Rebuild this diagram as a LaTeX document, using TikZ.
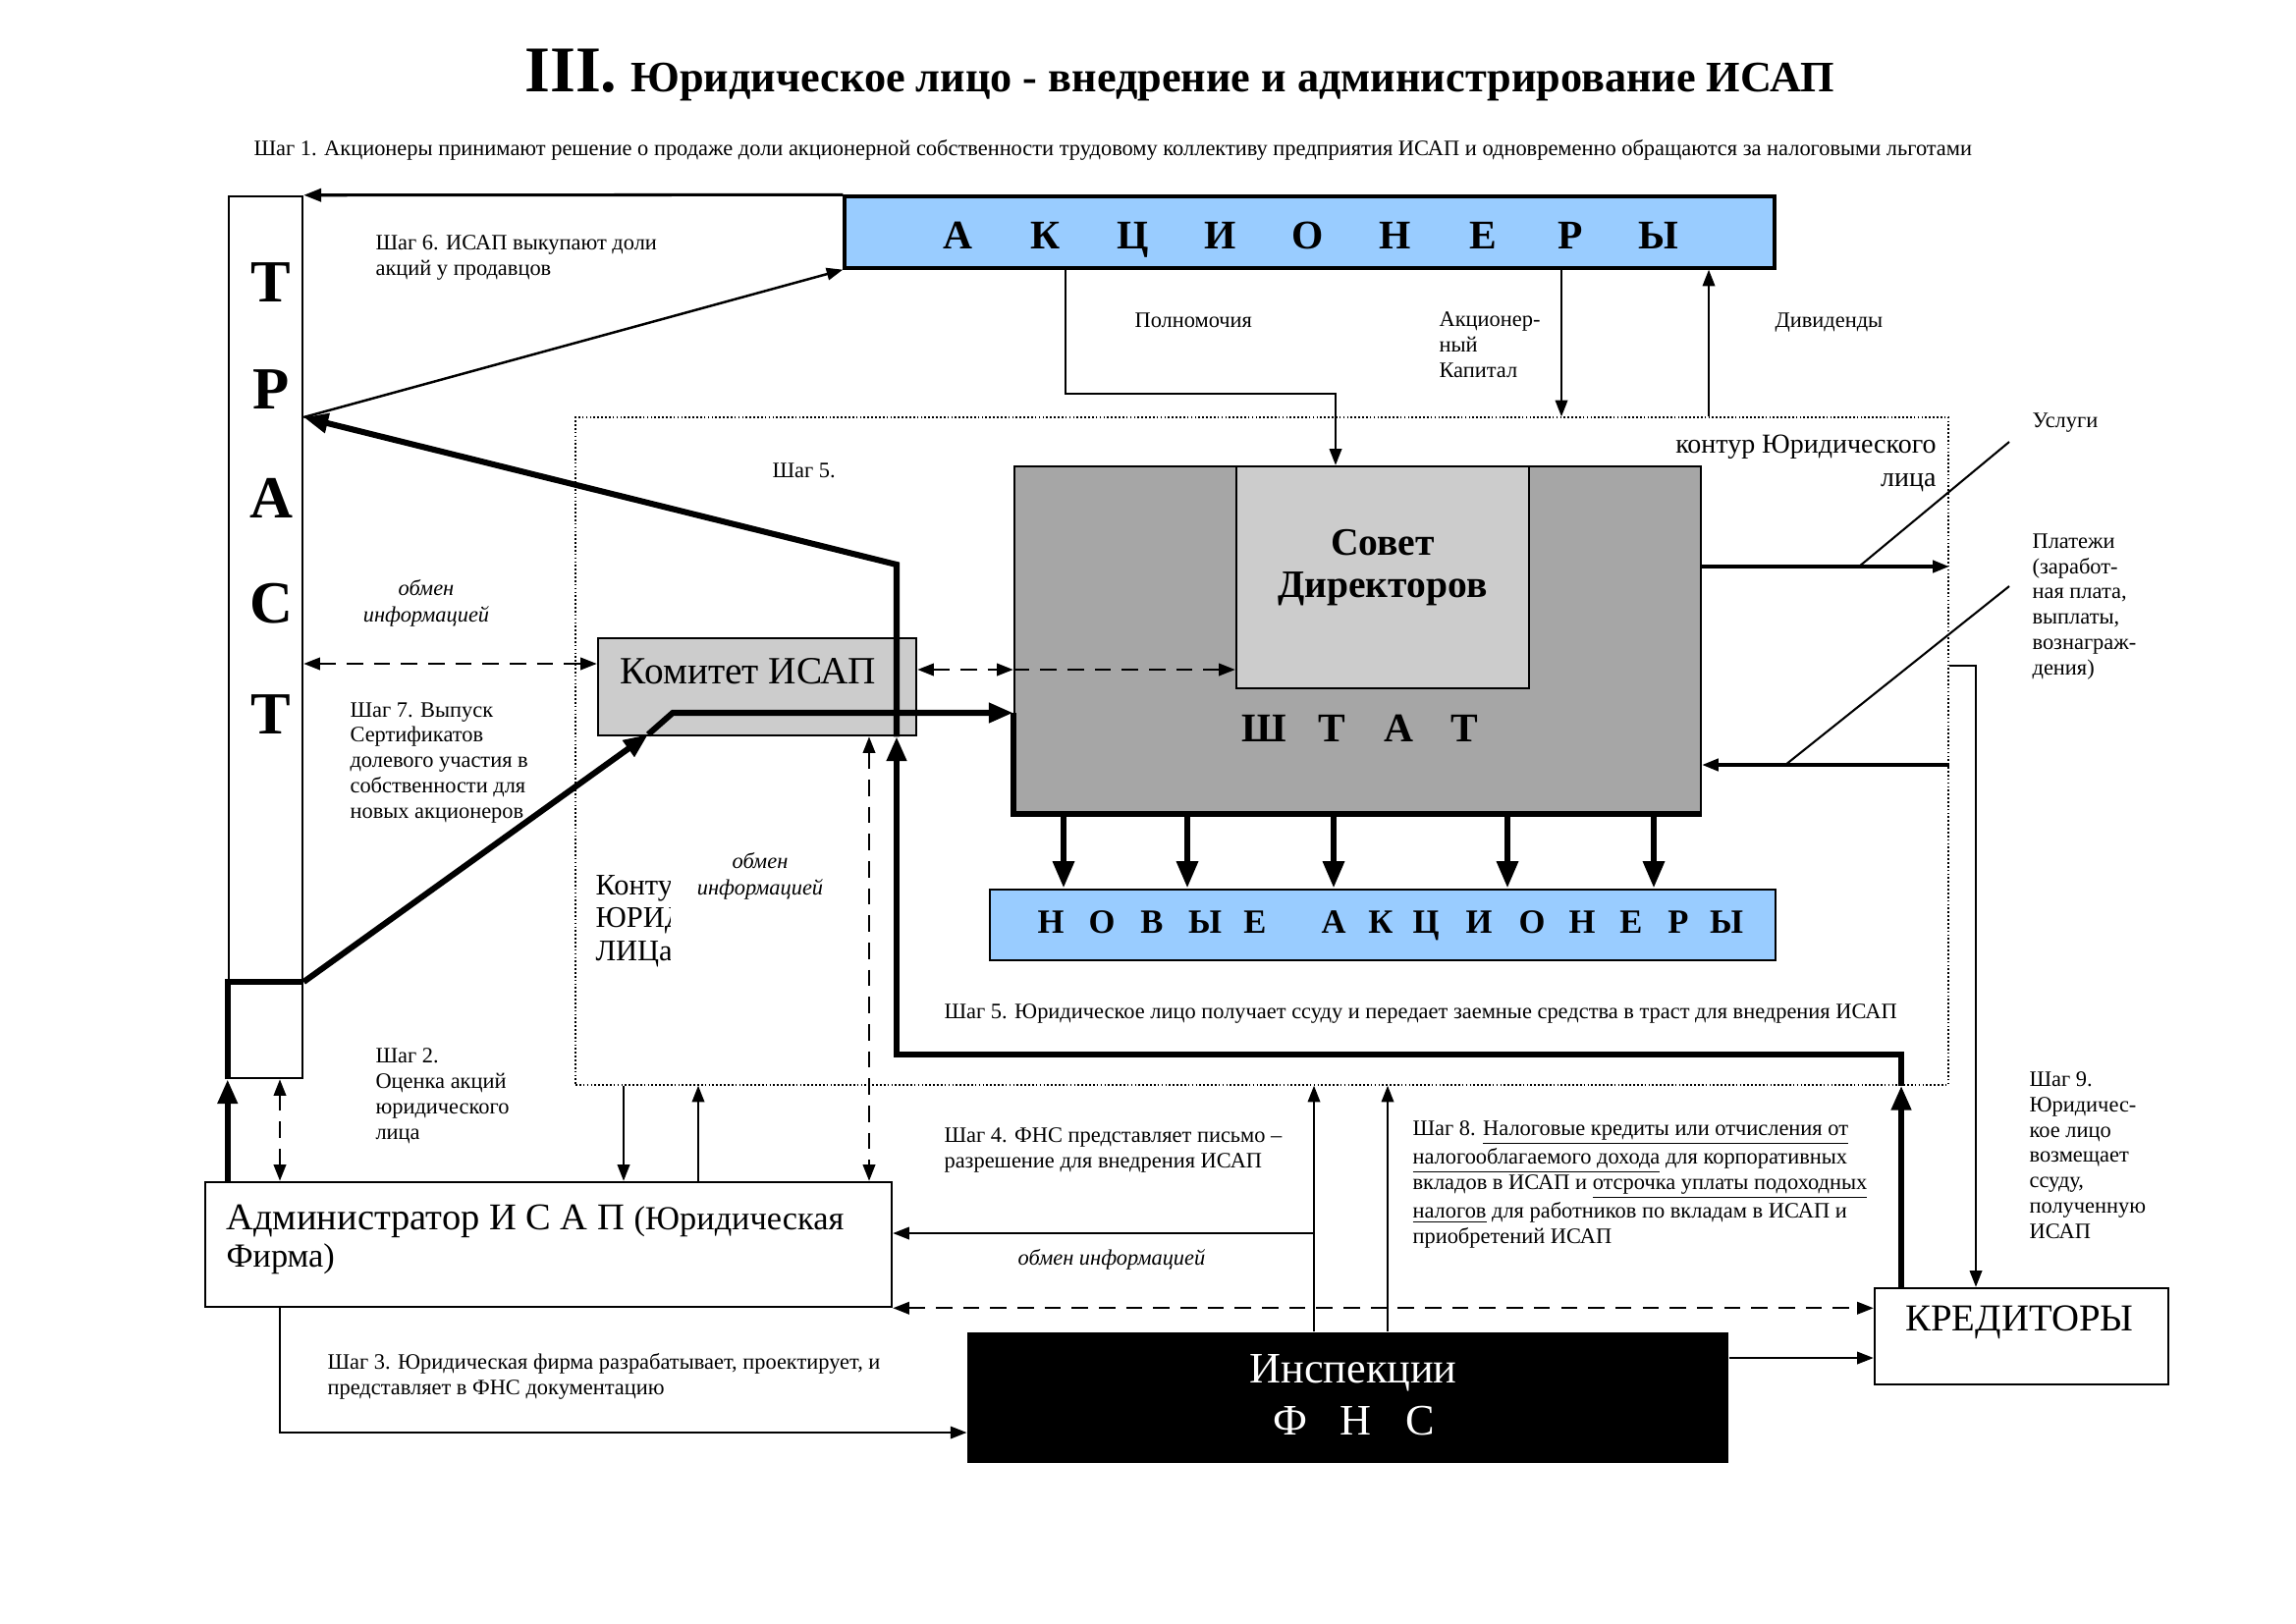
\documentclass[tikz,border=0pt]{standalone}
\usepackage{fontspec}
\setmainfont{Liberation Serif}
\usepackage{tikz}
\usetikzlibrary{arrows.meta,fit}

\definecolor{akcblue}{RGB}{153,204,255}
\definecolor{shtatgray}{RGB}{166,166,166}
\definecolor{sovetgray}{RGB}{204,204,204}

\tikzset{
	box/.style={draw, line width=0.9pt, inner sep=0pt},
	txt/.style={font=\fontsize{8.1}{9.3}\selectfont, align=left, anchor=base west, inner sep=0pt},
	itxt/.style={font=\fontsize{8.1}{9.5}\selectfont\itshape, align=center, anchor=base, inner sep=0pt},
	bigletter/.style={font=\fontsize{15}{17}\selectfont\bfseries, anchor=base, inner sep=0pt},
	arr/.style={line width=0.75pt, -{Triangle[length=6pt,width=4.5pt]}},
	fat/.style={line width=2.2pt, -{Triangle[length=9pt,width=7pt]}},
	fatline/.style={line width=2.2pt},
	dsh/.style={line width=0.8pt, dash pattern=on 6pt off 4pt, {Triangle[length=6pt,width=4.5pt]}-{Triangle[length=6pt,width=4.5pt]}},
}

\begin{document}
\begin{tikzpicture}[x=0.127mm, y=-0.127mm]
	\useasboundingbox (0,0) rectangle (2338,1653);

	% boxes
	\node[box, fit={(233,200) (308,1098)}] (trust) {};
	\node[box, fill=akcblue, line width=1.2pt, fit={(860,200) (1807,273)}] (akc) {};
	\node[draw, line width=0.5pt, dash pattern=on 0.6pt off 0.8pt, inner sep=0pt, fit={(586,425) (1984,1105)}] (kontur) {};
	\node[box, fill=shtatgray, fit={(1033,475) (1732,828)}] (shtat) {};
	\node[box, fill=sovetgray, fit={(1259,475) (1557,701)}] (sovet) {};
	\node[box, fill=sovetgray, fit={(609,650) (933,749)}] (komitet) {};
	\node[box, fill=akcblue, fit={(1008,906) (1808,978)}] (novye) {};
	\node[box, fit={(209,1204) (908,1331)}] (admin) {};
	\node[fill=black, inner sep=0pt, fit={(985,1357) (1760,1490)}] (fns) {};
	\node[box, fit={(1909,1312) (2208,1410)}] (kred) {};

	% texts (multi-line nodes sit on the baseline of their last line)
	\node[anchor=base] (title) at (1201,93) {{\fontsize{24}{28}\selectfont\bfseries III.}\enspace{\fontsize{16}{19}\selectfont\bfseries Юридическое лицо - внедрение и администрирование ИСАП}};
	\node[txt] (step1) at (258,158) {Шаг 1. Акционеры принимают решение о продаже доли акционерной собственности трудовому коллективу предприятия ИСАП и одновременно обращаются за налоговыми льготами};

	\foreach \ch/\y [count=\i] in {Т/288,Р/397,А/507,С/615,Т/728}
		\node[font=\fontsize{22}{24}\selectfont\bfseries, inner sep=0pt] (trust-\i) at (276,\y) {\ch};
	\foreach \ch [count=\i] in {А,К,Ц,И,О,Н,Е,Р,Ы}
		\node[bigletter] (akc-\i) at ({975+89.2*(\i-1)},253) {\ch};
	\foreach \ch/\x [count=\i] in {Н/1070,О/1122,В/1173,Ы/1227,Е/1278,А/1358,К/1406,Ц/1452,И/1506,О/1560,Н/1611,Е/1661,Р/1709,Ы/1758}
		\node[bigletter, font=\fontsize{12.5}{14}\selectfont\bfseries] (novye-\i) at (\x,950) {\ch};
	\foreach \ch/\x [count=\i] in {Ш/1287,Т/1356,А/1424,Т/1491}
		\node[bigletter] (shtat-\i) at (\x,755) {\ch};
	\node[font=\fontsize{14.3}{15.5}\selectfont\bfseries, align=center, anchor=base, inner sep=0pt] (sovet-txt) at (1408,608) {Совет\\Директоров};
	\node[font=\fontsize{14.2}{16}\selectfont, anchor=base, inner sep=0pt] (komitet-txt) at (762,696) {Комитет ИСАП};
	\node[font=\fontsize{13.9}{13.7}\selectfont, align=left, anchor=base west, inner sep=0pt] (admin-txt) at (230,1290) {Администратор И С А П {\fontsize{12.4}{13.7}\selectfont(Юридическая}\\{\fontsize{12.4}{13.7}\selectfont Фирма)}};
	\node[font=\fontsize{14}{16}\selectfont, anchor=base west, inner sep=0pt] (kred-txt) at (1940,1355) {КРЕДИТОРЫ};
	\node[font=\fontsize{16}{18}\selectfont, text=white, anchor=base, inner sep=0pt] (fns-txt) at (1378,1408) {Инспекции};
	\foreach \ch/\x [count=\i] in {Ф/1314,Н/1380,С/1446}
		\node[font=\fontsize{16}{18}\selectfont, text=white, anchor=base, inner sep=0pt] (fns-\i) at (\x,1461) {\ch};

	\node[txt] (step6) at (382,280) {Шаг 6. ИСАП выкупают доли\\акций у продавцов};
	\node[txt] (step5a) at (786,486) {Шаг 5.};
	\node[txt] (step7) at (356,833) {Шаг 7. Выпуск\\Сертификатов\\долевого участия в\\собственности для\\новых акционеров};
	\node[txt] (step2) at (382,1160) {Шаг 2.\\Оценка акций\\юридического\\лица};
	\node[txt] (step5b) at (961,1037) {Шаг 5. Юридическое лицо получает ссуду и передает заемные средства в траст для внедрения ИСАП};
	\node[txt] (step4) at (961,1189) {Шаг 4. ФНС представляет письмо –\\разрешение для внедрения ИСАП};
	\node[txt] (step8) at (1438,1266) {Шаг 8. \underline{Налоговые кредиты или отчисления от}\\\underline{налогооблагаемого дохода} для корпоративных\\вкладов в ИСАП и \underline{отсрочка уплаты подоходных}\\\underline{налогов} для работников по вкладам в ИСАП и\\приобретений ИСАП};
	\node[txt] (step3) at (333,1420) {Шаг 3. Юридическая фирма разрабатывает, проектирует, и\\представляет в ФНС документацию};
	\node[txt] (step9) at (2066,1261) {Шаг 9.\\Юридичес-\\кое лицо\\возмещает\\ссуду,\\полученную\\ИСАП};
	\node[txt] (uslugi) at (2069,435) {Услуги};
	\node[txt] (platezhi) at (2069,687) {Платежи\\(заработ-\\ная плата,\\выплаты,\\вознаграж-\\дения)};
	\node[txt] (polnom) at (1155,333) {Полномочия};
	\node[txt] (kapital) at (1465,384) {Акционер-\\ный\\Капитал};
	\node[txt] (divid) at (1807,333) {Дивиденды};
	\node[font=\fontsize{10.1}{12}\selectfont, align=right, anchor=base east, inner sep=0pt] (kontur-txt) at (1972,495) {контур Юридического\\лица};
	\node[itxt] (obmen1) at (434,633) {обмен\\информацией};
	\node[itxt] (obmen2) at (774,911) {обмен\\информацией};
	\node[itxt] (obmen3) at (1132,1288) {обмен информацией};
	\begin{scope}
		\clip (598,880) rectangle (682,995);
		\node[font=\fontsize{11}{12}\selectfont, align=left, anchor=base west, inner sep=0pt] (kontur-cut) at (606,978) {Контур\\ЮРИДИЧЕСКОГО\\ЛИЦа};
	\end{scope}

	% connectors
	\coordinate (trustP) at (trust.east |- 0,425);
	\draw[line width=1.1pt, -{Triangle[length=6.5pt,width=4.8pt]}] (akc.north west) -- (trust.north east);
	\draw[arr, line width=0.9pt] (trustP) -- (akc.south west);
	\draw[arr] (1085,0 |- akc.south) |- (1360,401) -- (1360,0 |- sovet.north);
	\draw[arr] (1590,0 |- akc.south) -- (1590,0 |- kontur.north);
	\draw[arr] (1740,0 |- kontur.north) -- (1740,0 |- akc.south);

	\coordinate (usl-a) at (2046,450);
	\coordinate (usl-b) at (1893,577);
	\coordinate (plat-a) at (2046,597);
	\coordinate (plat-b) at (1818,779);
	\draw[arr, line width=1.1pt] (shtat.east |- usl-b) -- (kontur.east |- usl-b);
	\draw[line width=0.75pt] (usl-a) -- (usl-b);
	\draw[arr, line width=1.1pt] (kontur.east |- plat-b) -- (shtat.east |- plat-b);
	\draw[line width=0.75pt] (plat-a) -- (plat-b);
	\draw[arr] (kontur.east |- 0,678) -- (2012,678) -- (2012,0 |- kred.north);

	\draw[dsh] (trust.east |- 0,676) -- (komitet.west |- 0,676);
	\draw[dsh] (komitet.east |- 0,682) -- (shtat.west |- 0,682);
	\draw[line width=0.8pt, dash pattern=on 6pt off 4pt, -{Triangle[length=6pt,width=4.5pt]}] (shtat.west |- 0,682) -- (sovet.west |- 0,682);

	\draw[fatline] (trust.south west) |- (trust.east |- 0,1000);
	\draw[fat] (trust.east |- 0,1000) -- (660,748);
	\draw[fat] (660,748) -- (685,726) -- (shtat.west |- 0,726);
	\draw[fatline] (shtat.west |- 0,726) -- (shtat.south west) -- (shtat.south east);
	\foreach \x in {1083,1209,1358,1535,1684}
		\draw[fat, line width=2.4pt, -{Triangle[length=10pt,width=7.5pt]}] (\x,0 |- shtat.south) -- (\x,0 |- novye.north);

	\draw[fat] (1936,0 |- kred.north) -- (1936,0 |- kontur.south);
	\draw[fat] (1936,0 |- kontur.south) |- (913,1074) -- (913,0 |- komitet.south);
	\draw[fat] (913,0 |- komitet.south) -- (913,575) -- (trustP);

	\draw[dsh] (885,0 |- komitet.south) -- (885,0 |- admin.north);
	\draw[arr] (635,0 |- kontur.south) -- (635,0 |- admin.north);
	\draw[arr] (711,0 |- admin.north) -- (711,0 |- kontur.south);
	\draw[fat] (trust.south west |- admin.north) -- (trust.south west);
	\draw[dsh] (285,0 |- admin.north) -- (285,0 |- trust.south);

	\draw[arr] (1338,0 |- fns.north) -- (1338,0 |- kontur.south);
	\draw[arr] (1413,0 |- fns.north) -- (1413,0 |- kontur.south);
	\draw[arr] (1338,1256) -- (admin.east |- 0,1256);
	\draw[dsh] (admin.south east) -- (kred.west |- admin.south east);
	\draw[arr] (fns.east |- 0,1383) -- (kred.west |- 0,1383);
	\draw[arr] (285,0 |- admin.south) |- (fns.west |- 0,1459);
\end{tikzpicture}
\end{document}
